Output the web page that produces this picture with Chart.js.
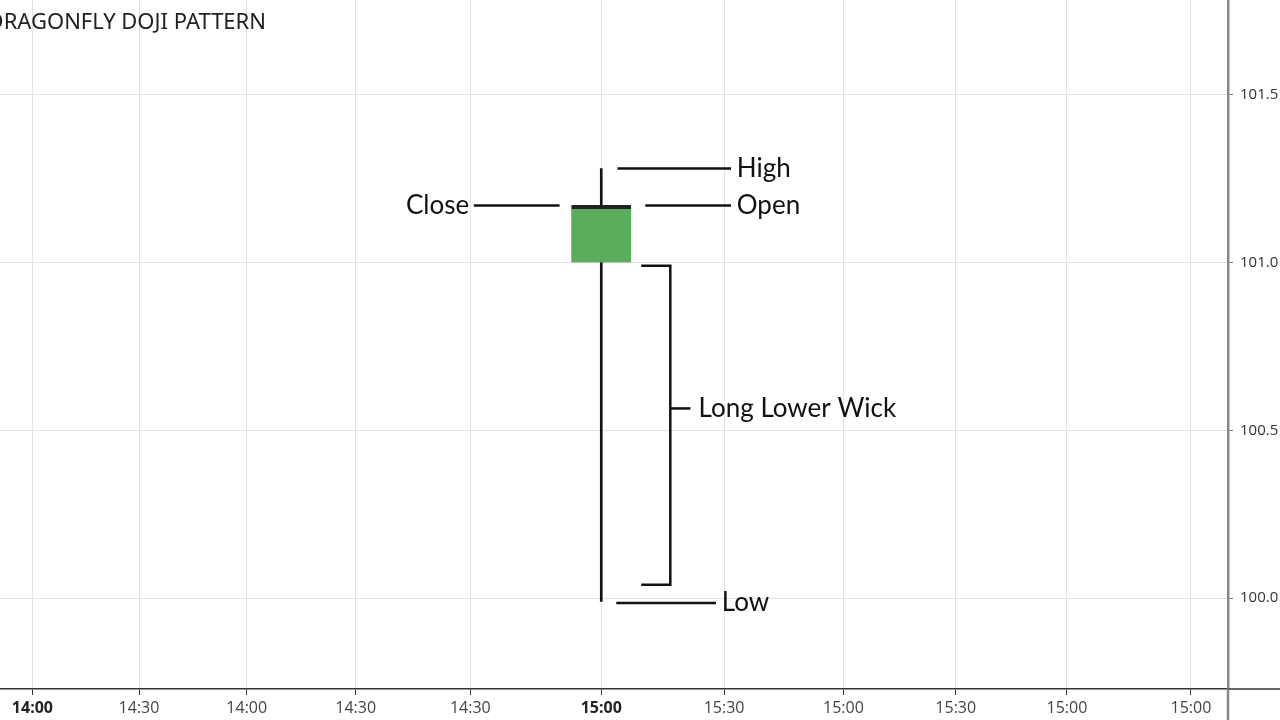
<!DOCTYPE html>
<html>
<head>
<meta charset="utf-8">
<script src="https://cdn.jsdelivr.net/npm/chart.js@4/dist/chart.umd.min.js"></script>
<style>
	html, body { margin: 0; padding: 0; background: #ffffff; }
	#wrap { width: 1280px; height: 720px; position: relative; }
</style>
</head>
<body>
<div id="wrap"><canvas id="doji"></canvas></div>
<script>
// axis ticks
const xTickValues = [0.09, 1.01, 1.94, 2.88, 3.87, 5, 6.06, 7.09, 8.06, 9.02, 10.09];
const xTickLabels = ['14:00', '14:30', '14:00', '14:30', '14:30', '15:00', '15:30', '15:00', '15:30', '15:00', '15:00'];
const yTickValues = [100.0, 100.5, 101.0, 101.5];

// the one candle
const candleX = 5;
const candleHigh = 101.28;
const candleLow = 99.99;
const bodyTop = 101.17;
const bodyBottom = 101.0;

// annotation texts and the price each one points at
const noteTexts = ['High', 'Open', 'Close', 'Low', 'Long Lower Wick'];
const noteValues = [101.28, 101.17, 101.17, 99.985, 100.565];

const title = 'DRAGONFLY DOJI PATTERN';

// where the notes sit, in axis units
const notes = [
	{ from: 5.14, to: 6.12, textX: 6.17, align: 'left' },
	{ from: 5.38, to: 6.12, textX: 6.17, align: 'left' },
	{ from: 3.90, to: 4.64, textX: 3.86, align: 'right' },
	{ from: 5.13, to: 5.99, textX: 6.04, align: 'left' },
	{ from: 5.60, to: 5.77, textX: 5.84, align: 'left' }
];
const bracket = { left: 5.345, right: 5.596, top: 100.99, bottom: 100.04 };

const overlay = {
	id: 'overlay',
	afterDraw(chart) {
		const ctx = chart.ctx;
		const x = chart.scales.x;
		const y = chart.scales.y;
		const area = chart.chartArea;
		ctx.save();

		// axis lines run on past the corner
		ctx.strokeStyle = '#333';
		ctx.lineWidth = 1.5;
		ctx.beginPath();
		ctx.moveTo(area.right, area.bottom);
		ctx.lineTo(chart.width, area.bottom);
		ctx.stroke();
		ctx.strokeStyle = '#888';
		ctx.lineWidth = 2.5;
		ctx.beginPath();
		ctx.moveTo(area.right, area.bottom);
		ctx.lineTo(area.right, chart.height);
		ctx.stroke();

		// bracket along the lower wick
		ctx.strokeStyle = '#111';
		ctx.lineWidth = 2.5;
		ctx.beginPath();
		ctx.moveTo(x.getPixelForValue(bracket.left), y.getPixelForValue(bracket.top));
		ctx.lineTo(x.getPixelForValue(bracket.right), y.getPixelForValue(bracket.top));
		ctx.lineTo(x.getPixelForValue(bracket.right), y.getPixelForValue(bracket.bottom));
		ctx.lineTo(x.getPixelForValue(bracket.left), y.getPixelForValue(bracket.bottom));
		ctx.stroke();

		// pointer lines and labels
		ctx.font = '26px Lato';
		ctx.fillStyle = '#111';
		ctx.textBaseline = 'middle';
		notes.forEach((n, i) => {
			const py = y.getPixelForValue(noteValues[i]);
			ctx.beginPath();
			ctx.moveTo(x.getPixelForValue(n.from), py);
			ctx.lineTo(x.getPixelForValue(n.to), py);
			ctx.stroke();
			ctx.textAlign = n.align;
			ctx.fillText(noteTexts[i], x.getPixelForValue(n.textX), py);
		});

		// title, clipped at the left edge
		ctx.font = '22px "Noto Sans"';
		ctx.fillStyle = '#222';
		ctx.textAlign = 'right';
		ctx.fillText(title, 266, 23);
		ctx.restore();
	}
};

const isBoldTick = (c) => c.tick && (c.index === 0 || c.tick.value === candleX);

const config_doji = {
	type: 'bar',
	data: {
		datasets: [
			{
				// body, drawn over the wick
				data: [{ x: candleX, y: [bodyBottom, bodyTop] }],
				backgroundColor: '#5cac5e',
				borderColor: '#222',
				borderWidth: { top: 4, left: 0, right: 0, bottom: 0 },
				borderSkipped: false,
				barThickness: 60,
				grouped: false
			},
			{
				// wick
				data: [{ x: candleX, y: [candleLow, candleHigh] }],
				backgroundColor: '#111',
				barThickness: 2,
				grouped: false
			}
		]
	},
	plugins: [overlay],
	options: {
		responsive: true,
		maintainAspectRatio: false,
		animation: false,
		layout: { padding: 0 },
		plugins: {
			legend: { display: false },
			tooltip: { enabled: false }
		},
		scales: {
			x: {
				type: 'linear',
				offset: false,
				min: -0.19,
				max: 10.41,
				afterBuildTicks: (scale) => {
					scale.ticks = xTickValues.map(v => ({ value: v }));
				},
				afterFit: (scale) => {
					scale.height = 31;
					scale.paddingLeft = 0;
					scale.paddingRight = 0;
				},
				grid: {
					offset: false,
					color: '#dfe4ea',
					lineWidth: 1,
					tickLength: 6,
					tickColor: '#333'
				},
				border: { color: '#333', width: 1.5 },
				ticks: {
					autoSkip: false,
					maxRotation: 0,
					padding: 4,
					callback: (v, i) => xTickLabels[i],
					color: (c) => isBoldTick(c) ? '#222' : '#444',
					font: (c) => ({
						family: '"Open Sans"',
						size: 16,
						weight: isBoldTick(c) ? 'bold' : 'normal'
					})
				}
			},
			y: {
				position: 'right',
				min: 99.729,
				max: 101.782,
				afterBuildTicks: (scale) => {
					scale.ticks = yTickValues.map(v => ({ value: v }));
				},
				afterFit: (scale) => {
					scale.width = 52;
					scale.paddingTop = 0;
					scale.paddingBottom = 0;
				},
				grid: {
					color: '#dfe4ea',
					lineWidth: 1,
					tickLength: 5,
					tickColor: '#777'
				},
				border: { color: '#888', width: 2.5 },
				ticks: {
					padding: 7,
					color: '#333',
					font: { family: '"Open Sans"', size: 15 },
					callback: (v) => Number(v).toFixed(1)
				}
			}
		}
	}
};

const doji = new Chart(
	document.getElementById('doji'),
	config_doji
);
</script>
</body>
</html>
